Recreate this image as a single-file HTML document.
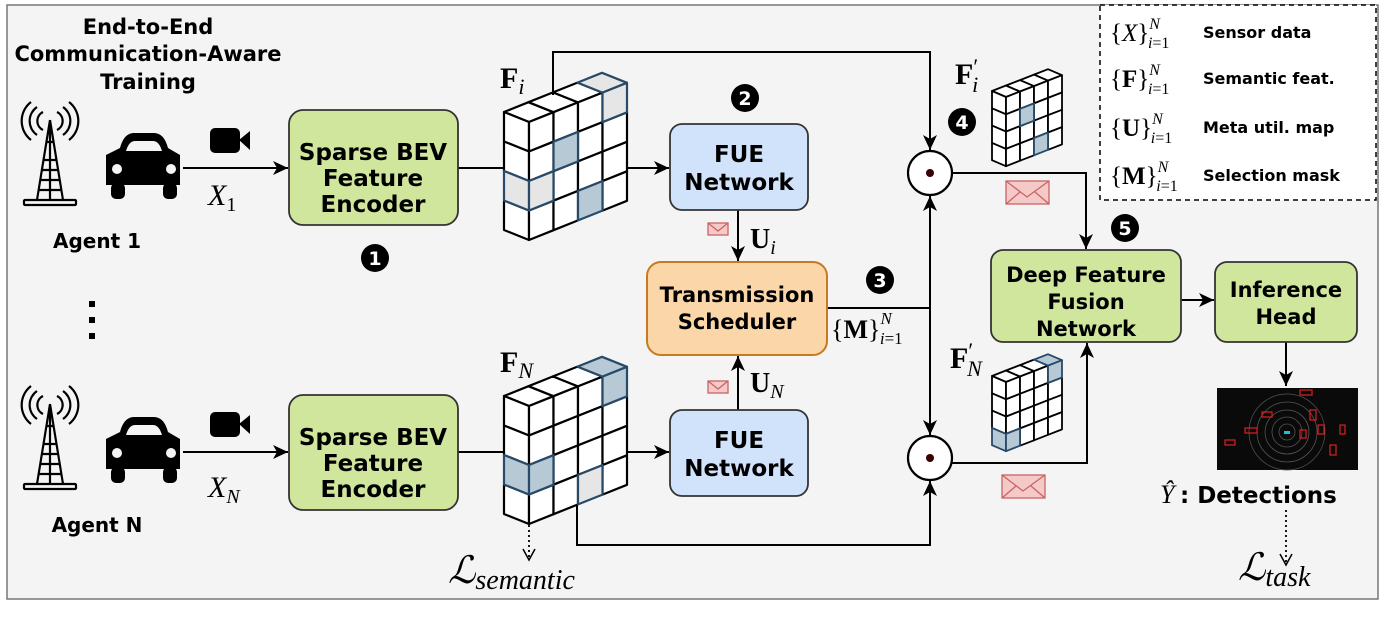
<!DOCTYPE html>
<html><head><meta charset="utf-8"><style>
html,body{margin:0;padding:0;background:#fff}
svg{display:block}
.b{font-family:"DejaVu Sans","Liberation Sans",sans-serif;font-weight:bold}
.m{font-family:"Liberation Serif",serif;font-style:italic}
.s{font-family:"Liberation Serif",serif}
</style></head><body>
<svg id="sv" width="1385" height="632" viewBox="0 0 1385 632" xmlns="http://www.w3.org/2000/svg">
<defs>
<marker id="ar" markerWidth="16" markerHeight="14" refX="15" refY="7" orient="auto" markerUnits="userSpaceOnUse"><path d="M0,0 L15,7 L0,14 L4,7 z" fill="#000"/></marker>
<marker id="ad" markerWidth="14" markerHeight="14" refX="12" refY="7" orient="auto" markerUnits="userSpaceOnUse"><path d="M1,1 L12,7 L1,13" fill="none" stroke="#000" stroke-width="1.5"/></marker>
<g id="tower" fill="none" stroke="#000" stroke-width="2.2">
<path d="M0,-40 L-13,40 M0,-40 L13,40 M0,-38 V40 M-10,20 H10 M-7,0 H7 M-4,-18 H4 M-12,30 H12 M-9,10 H9"/>
<rect x="-26" y="40" width="52" height="5" rx="1"/>
<path d="M-7,-48 a10,10 0 0 0 0,18 M7,-48 a10,10 0 0 1 0,18 M-13,-53 a17,17 0 0 0 0,28 M13,-53 a17,17 0 0 1 0,28 M-19,-58 a24,24 0 0 0 0,38 M19,-58 a24,24 0 0 1 0,38"/>
</g>
<g id="car">
<path d="M18,15 Q22,0 32,0 H52 Q62,0 66,15 L78,22 V52 H4 V22 z" fill="#000"/>
<path d="M24,18 Q27,8 33,8 H51 Q57,8 60,18 z" fill="#f4f4f4"/>
<circle cx="15" cy="36" r="5" fill="#f4f4f4"/><circle cx="69" cy="36" r="5" fill="#f4f4f4"/>
<rect x="9" y="50" width="14" height="16" rx="5" fill="#000"/><rect x="61" y="50" width="14" height="16" rx="5" fill="#000"/>
</g>
<g id="cam"><rect x="0" y="0" width="30" height="25" rx="5" fill="#000"/><path d="M29,12 L40,3 V22 z" fill="#000"/></g>
</defs>
<rect x="7" y="5" width="1371" height="594" fill="#f4f4f4" stroke="#777" stroke-width="1.5"/>
<rect x="1100" y="5" width="276" height="195" fill="#fff" stroke="#000" stroke-width="1.5" stroke-dasharray="5,4"/>
<g id="cubes"></g>
<g fill="none" stroke="#000" stroke-width="2">
<line x1="183" y1="168" x2="288" y2="168" marker-end="url(#ar)"/>
<line x1="183" y1="452" x2="288" y2="452" marker-end="url(#ar)"/>
<line x1="458" y1="168" x2="504" y2="168"/>
<line x1="458" y1="452" x2="504" y2="452"/>
<line x1="627" y1="168" x2="669" y2="168" marker-end="url(#ar)"/>
<line x1="627" y1="452" x2="669" y2="452" marker-end="url(#ar)"/>
<line x1="738" y1="210" x2="738" y2="261" marker-end="url(#ar)"/>
<line x1="738" y1="410" x2="738" y2="356" marker-end="url(#ar)"/>
<polyline points="553,95 553,52 930,52 930,150" marker-end="url(#ar)"/>
<polyline points="827,308 930,308"/>
<line x1="930" y1="308" x2="930" y2="196" marker-end="url(#ar)"/>
<line x1="930" y1="308" x2="930" y2="435" marker-end="url(#ar)"/>
<polyline points="577,505 577,545 930,545 930,481" marker-end="url(#ar)"/>
<polyline points="952,173 1086,173 1086,249" marker-end="url(#ar)"/>
<polyline points="952,463 1087,463 1087,343" marker-end="url(#ar)"/>
<line x1="1181" y1="300" x2="1214" y2="300" marker-end="url(#ar)"/>
<line x1="1286" y1="342" x2="1286" y2="386" marker-end="url(#ar)"/>
</g>
<g stroke="#000" stroke-width="1.8" stroke-dasharray="2,3" fill="none">
<line x1="529" y1="520" x2="529" y2="560" marker-end="url(#ad)"/>
<line x1="1286" y1="510" x2="1286" y2="565" marker-end="url(#ad)"/>
</g>
<rect x="289" y="110" width="169" height="115" rx="14" fill="#cfe69c" stroke="#333" stroke-width="1.8"/>
<rect x="289" y="395" width="169" height="115" rx="14" fill="#cfe69c" stroke="#333" stroke-width="1.8"/>
<rect x="670" y="124" width="138" height="86" rx="12" fill="#d1e3fa" stroke="#333" stroke-width="1.8"/>
<rect x="670" y="410" width="138" height="86" rx="12" fill="#d1e3fa" stroke="#333" stroke-width="1.8"/>
<rect x="647" y="262" width="180" height="93" rx="14" fill="#fbd6a8" stroke="#c77a1f" stroke-width="2"/>
<rect x="991" y="250" width="190" height="92" rx="12" fill="#cfe69c" stroke="#333" stroke-width="1.8"/>
<rect x="1215" y="262" width="142" height="80" rx="12" fill="#cfe69c" stroke="#333" stroke-width="1.8"/>
<g class="b" font-size="23" text-anchor="middle" fill="#000">
<text x="373" y="160">Sparse BEV</text><text x="373" y="186">Feature</text><text x="373" y="212">Encoder</text>
<text x="373" y="445">Sparse BEV</text><text x="373" y="471">Feature</text><text x="373" y="497">Encoder</text>
<text x="739" y="162">FUE</text><text x="739" y="190">Network</text>
<text x="739" y="448">FUE</text><text x="739" y="476">Network</text>
<text x="737" y="302" font-size="21">Transmission</text><text x="737" y="329" font-size="21">Scheduler</text>
<text x="1086" y="282" font-size="21">Deep Feature</text><text x="1086" y="309" font-size="21">Fusion</text><text x="1086" y="336" font-size="21">Network</text>
<text x="1286" y="297" font-size="21">Inference</text><text x="1286" y="324" font-size="21">Head</text>
<text x="148" y="34" font-size="21">End-to-End</text>
<text x="148" y="61" font-size="21">Communication-Aware</text>
<text x="148" y="89" font-size="21">Training</text>
<text x="97" y="248" font-size="20">Agent 1</text>
<text x="97" y="532" font-size="20">Agent N</text>
</g>
<g fill="#000"><rect x="89" y="301" width="6" height="6"/><rect x="89" y="317" width="6" height="6"/><rect x="89" y="333" width="6" height="6"/></g>
<use href="#tower" x="50" y="160"/><use href="#tower" x="50" y="444"/>
<use href="#car" x="102" y="133"/><use href="#car" x="102" y="417"/>
<use href="#cam" x="210" y="128"/><use href="#cam" x="210" y="412"/>
<text x="208" y="205" class="m" font-size="30">X<tspan font-style="normal" font-size="20" dy="6">1</tspan></text>
<text x="208" y="497" class="m" font-size="30">X<tspan font-size="20" dy="6">N</tspan></text>
<text x="500" y="88" class="s" font-weight="bold" font-size="30">F<tspan class="m" font-weight="normal" font-size="22" dy="6">i</tspan></text>
<text x="500" y="372" class="s" font-weight="bold" font-size="30">F<tspan class="m" font-weight="normal" font-size="22" dy="6">N</tspan></text>
<text x="955" y="84" class="s" font-weight="bold" font-size="30">F<tspan font-weight="normal" font-size="22" dy="-10">′</tspan><tspan class="m" font-weight="normal" font-size="22" dx="-6" dy="18">i</tspan></text>
<text x="950" y="368" class="s" font-weight="bold" font-size="30">F<tspan font-weight="normal" font-size="22" dy="-10">′</tspan><tspan class="m" font-weight="normal" font-size="22" dx="-6" dy="18">N</tspan></text>
<text x="750" y="248" class="s" font-weight="bold" font-size="28">U<tspan class="m" font-weight="normal" font-size="20" dy="6">i</tspan></text>
<text x="750" y="392" class="s" font-weight="bold" font-size="28">U<tspan class="m" font-weight="normal" font-size="20" dy="6">N</tspan></text>
<text x="831" y="338" class="s" font-size="26">{<tspan font-weight="bold">M</tspan>}<tspan class="m" font-size="17" dy="-14">N</tspan><tspan font-size="17" dx="-12" dy="20"><tspan class="m">i</tspan>=1</tspan></text>
<text x="448" y="583" class="m" font-size="38">ℒ<tspan font-size="28" dy="6">semantic</tspan></text>
<text x="1238" y="580" class="m" font-size="38">ℒ<tspan font-size="28" dy="6">task</tspan></text>
<text x="1160" y="503" class="m" font-size="26">Ŷ</text>
<text x="1180" y="503" class="b" font-size="23">: Detections</text>
<g font-size="25" class="s">
<text x="1110" y="41">{<tspan class="m">X</tspan>}<tspan class="m" font-size="16" dy="-12">N</tspan><tspan font-size="16" dx="-12" dy="19"><tspan class="m">i</tspan>=1</tspan></text>
<text x="1110" y="87">{<tspan font-weight="bold">F</tspan>}<tspan class="m" font-size="16" dy="-12">N</tspan><tspan font-size="16" dx="-12" dy="19"><tspan class="m">i</tspan>=1</tspan></text>
<text x="1110" y="136">{<tspan font-weight="bold">U</tspan>}<tspan class="m" font-size="16" dy="-12">N</tspan><tspan font-size="16" dx="-12" dy="19"><tspan class="m">i</tspan>=1</tspan></text>
<text x="1110" y="184">{<tspan font-weight="bold">M</tspan>}<tspan class="m" font-size="16" dy="-12">N</tspan><tspan font-size="16" dx="-12" dy="19"><tspan class="m">i</tspan>=1</tspan></text>
</g>
<g class="b" font-size="16">
<text x="1203" y="38">Sensor data</text>
<text x="1203" y="84">Semantic feat.</text>
<text x="1203" y="133">Meta util. map</text>
<text x="1203" y="181">Selection mask</text>
</g>
<g stroke="#000" stroke-width="2.2" fill="#fff"><circle cx="930" cy="173" r="22"/><circle cx="930" cy="458" r="22"/></g>
<circle cx="930" cy="173" r="4" fill="#3a0000"/><circle cx="930" cy="458" r="4" fill="#3a0000"/>
<g class="b" font-size="19" text-anchor="middle">
<circle cx="375" cy="258" r="14"/><text x="375" y="265" fill="#fff">1</text>
<circle cx="745" cy="98" r="14"/><text x="745" y="105" fill="#fff">2</text>
<circle cx="880" cy="280" r="14"/><text x="880" y="287" fill="#fff">3</text>
<circle cx="962" cy="122" r="14"/><text x="962" y="129" fill="#fff">4</text>
<circle cx="1125" cy="228" r="14"/><text x="1125" y="235" fill="#fff">5</text>
</g>
<g fill="#f6c9c9" stroke="#c86464" stroke-width="1.3">
<rect x="1006" y="181" width="43" height="23"/><path d="M1006,181 L1027,197 L1049,181 M1006,204 L1020,192 M1049,204 L1035,192" fill="none"/>
<rect x="1002" y="475" width="43" height="23"/><path d="M1002,475 L1023,491 L1045,475 M1002,498 L1016,486 M1045,498 L1031,486" fill="none"/>
<rect x="708" y="223" width="20" height="12"/><path d="M708,223 L718,231 L728,223" fill="none"/>
<rect x="708" y="381" width="20" height="12"/><path d="M708,381 L718,389 L728,381" fill="none"/>
</g>
<rect x="1217" y="388" width="141" height="82" fill="#0a0a0a"/>
<g fill="none" stroke="#555" stroke-width="0.8">
<circle cx="1287" cy="432" r="8"/><circle cx="1287" cy="432" r="15"/><circle cx="1287" cy="432" r="22"/><circle cx="1287" cy="432" r="30"/><circle cx="1287" cy="432" r="38"/>
</g>
<g fill="none" stroke="#e02020" stroke-width="1.2">
<rect x="1262" y="412" width="10" height="5"/><rect x="1245" y="428" width="12" height="5"/><rect x="1225" y="440" width="10" height="5"/>
<rect x="1310" y="410" width="6" height="10"/><rect x="1318" y="425" width="6" height="9"/><rect x="1300" y="430" width="6" height="8"/><rect x="1330" y="445" width="6" height="10"/><rect x="1340" y="425" width="5" height="9"/><rect x="1300" y="390" width="12" height="5"/>
</g>
<rect x="1284" y="431" width="6" height="3" fill="#2bd"/>
</svg>
<script>
(function(){
var NS="http://www.w3.org/2000/svg",g=document.getElementById("cubes");
var BLUE="#b8c9d6",GRAY="#e6e6e6",BS="#274a68";
function poly(pts,fill,stroke,sw){var p=document.createElementNS(NS,"polygon");p.setAttribute("points",pts.map(function(a){return a[0].toFixed(1)+","+a[1].toFixed(1)}).join(" "));p.setAttribute("fill",fill);p.setAttribute("stroke",stroke);p.setAttribute("stroke-width",sw);p.setAttribute("stroke-linejoin","round");g.appendChild(p);}
function cube(x0,y0,cw,ch,sl,dx,dy,sh,sw){
 var jobs=[];
 function F(c,r){return [x0+c*cw,y0+c*cw*sl+r*ch];}
 for(var c=0;c<4;c++){var a=F(c,0),b=F(c+1,0);var col=sh.top[c]||"#fff";jobs.push([[a,b,[b[0]+dx,b[1]+dy],[a[0]+dx,a[1]+dy]],col]);}
 for(var r=0;r<4;r++){var a=F(0,r),b=F(0,r+1);var col=sh.side[r]||"#fff";jobs.push([[[a[0]+dx,a[1]+dy],a,b,[b[0]+dx,b[1]+dy]],col]);}
 for(var c=0;c<4;c++)for(var r=0;r<4;r++){var col=sh.front[c+","+r]||"#fff";jobs.push([[F(c,r),F(c+1,r),F(c+1,r+1),F(c,r+1)],col]);}
 jobs.forEach(function(j){if(j[1]=="#fff")poly(j[0],"#fff","#000",sw);});
 jobs.forEach(function(j){if(j[1]!="#fff")poly(j[0],j[1],BS,sw);});
}
var B=BLUE,G=GRAY;
cube(529,122,24.5,29.5,-0.4,-25,-10,{front:{"3,0":G,"1,1":B,"0,2":G,"2,3":B},side:{2:G},top:{3:G}},2.2);
cube(529,406,24.5,29.5,-0.4,-25,-10,{front:{"3,0":B,"0,2":B,"2,3":G},side:{2:B},top:{3:B}},2.2);
cube(1006,97,14,17.3,-0.39,-14,-6,{front:{"1,1":B,"2,3":B},side:{},top:{}},1.8);
cube(1006,382,14,17.3,-0.39,-14,-6,{front:{"3,0":B,"0,3":B},side:{3:B},top:{3:B}},1.8);
})();
</script>
</body></html>
